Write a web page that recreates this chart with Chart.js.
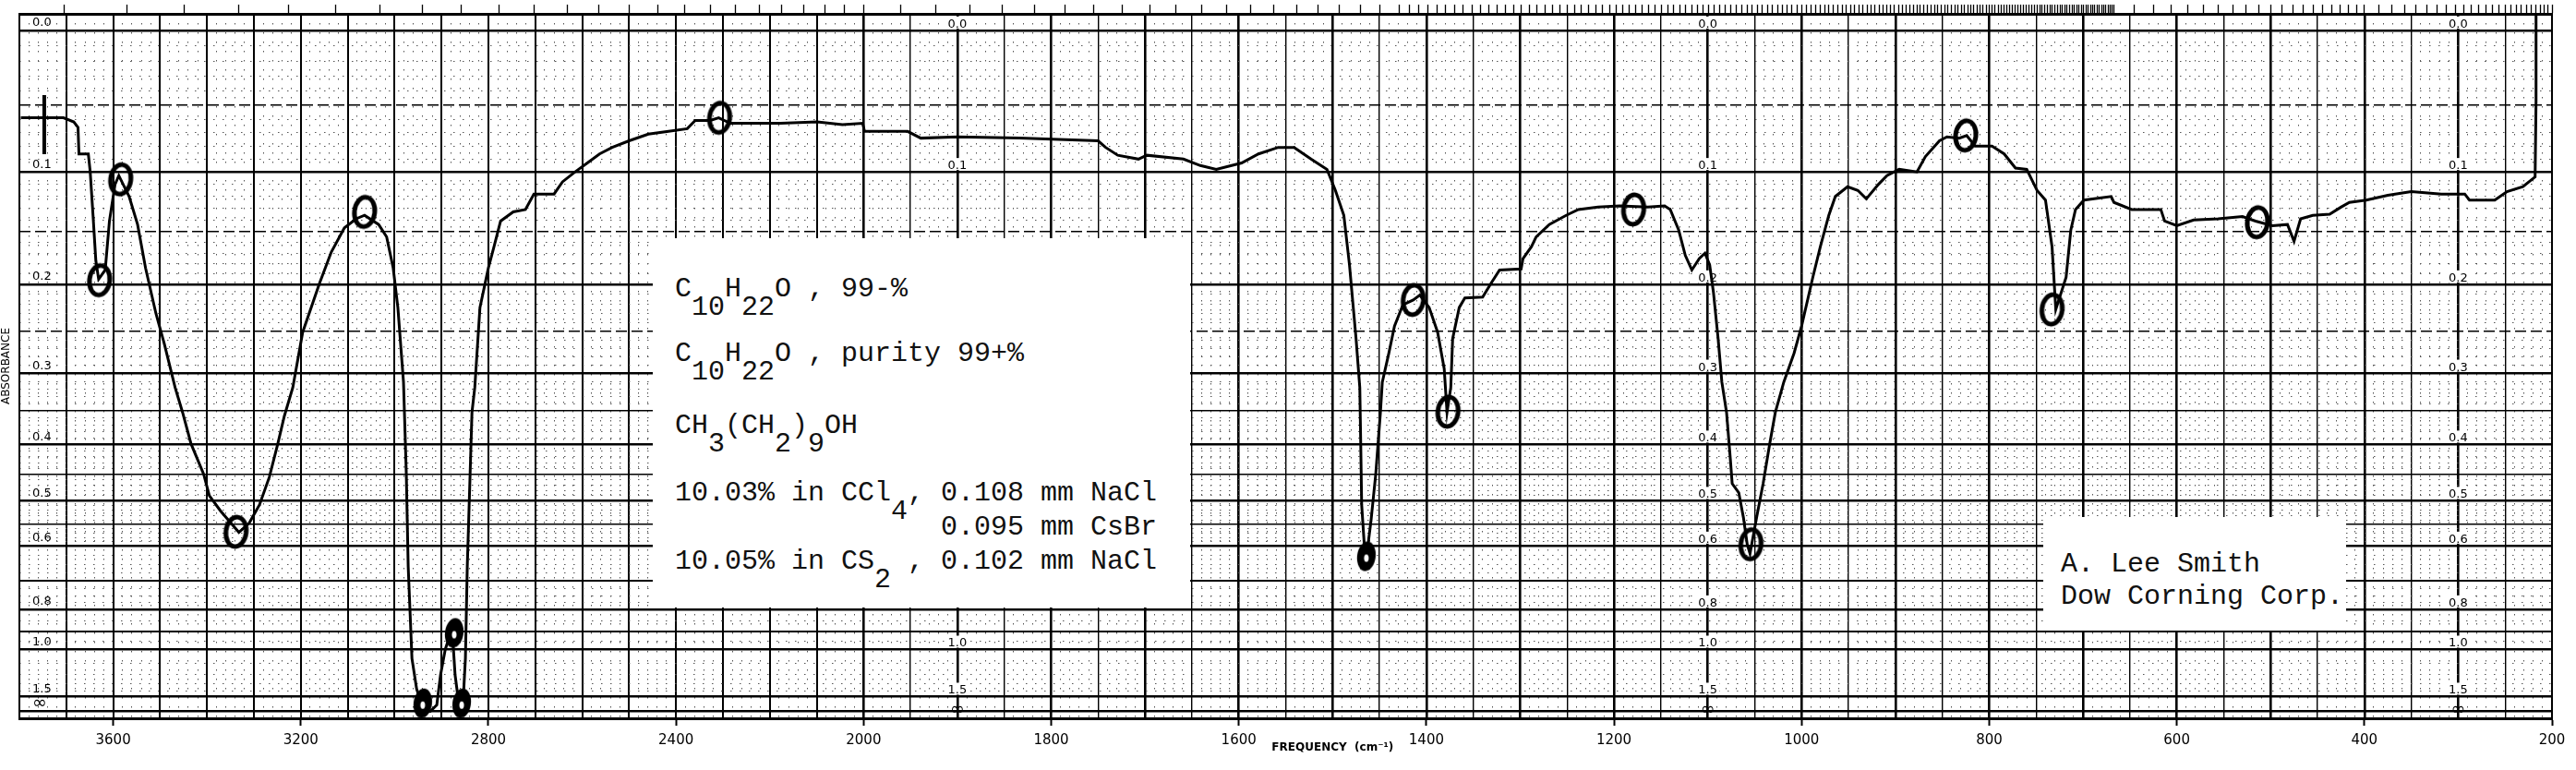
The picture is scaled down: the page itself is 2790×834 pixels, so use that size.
<!DOCTYPE html>
<html><head><meta charset="utf-8">
<script src="https://cdn.jsdelivr.net/npm/chart.js@4.4.1/dist/chart.umd.min.js"></script>
<style>
html,body{margin:0;padding:0;background:#fff;}
#wrap{position:relative;width:2790px;height:834px;overflow:hidden;}
#c{position:absolute;left:0;top:0;}
.note{position:absolute;background:#fff;font-family:"Liberation Mono","DejaVu Sans Mono",monospace;font-size:30px;line-height:30px;color:#111;}
.note .ln{position:absolute;white-space:pre;}
.sub{position:relative;top:20px;}
</style></head><body>
<div id="wrap">
<canvas id="c" width="2790" height="834"></canvas>
<div class="note" style="left:707px;top:258px;width:582px;height:400px;">
<div class="ln" style="left:24px;top:40px">C<span class="sub">10</span>H<span class="sub">22</span>O , 99-%</div>
<div class="ln" style="left:24px;top:110px">C<span class="sub">10</span>H<span class="sub">22</span>O , purity 99+%</div>
<div class="ln" style="left:24px;top:188px">CH<span class="sub">3</span>(CH<span class="sub">2</span>)<span class="sub">9</span>OH</div>
<div class="ln" style="left:24px;top:261px">10.03% in CCl<span class="sub">4</span>, 0.108 mm NaCl</div>
<div class="ln" style="left:24px;top:298px">                0.095 mm CsBr</div>
<div class="ln" style="left:24px;top:335px">10.05% in CS<span class="sub">2</span> , 0.102 mm NaCl</div>
</div>
<div class="note" style="left:2213px;top:560px;width:328px;height:123px;">
<div class="ln" style="left:19px;top:36px">A. Lee Smith</div>
<div class="ln" style="left:19px;top:71px">Dow Corning Corp.</div>
</div>
</div>
<script>
// ---- data (wavenumber cm-1, absorbance) ----
const traceWn = [3797,3706,3684,3675,3673,3653,3649,3643,3637,3631,3617,3608,3596,3588,3566,3548,3531,3509,3491,3468,3452,3434,3407,3395,3371,3349,3332,3310,3288,3267,3249,3235,3217,3196,3160,3135,3107,3082,3064,3034,3017,3003,2993,2981,2975,2971,2963,2953,2942,2932,2924,2910,2902,2892,2883,2875,2871,2865,2861,2855,2849,2845,2839,2835,2829,2818,2800,2788,2774,2747,2721,2703,2660,2642,2615,2589,2563,2536,2500,2459,2416,2376,2359,2327,2309,2284,2230,2177,2099,2045,2002,1999,1953,1939,1900,1834,1750,1742,1729,1707,1698,1659,1641,1624,1597,1579,1558,1541,1523,1506,1497,1488,1482,1475,1471,1470,1469,1466,1464,1459,1454,1449,1447,1440,1434,1425,1414,1407,1397,1388,1381,1378,1374,1372,1365,1359,1340,1331,1322,1299,1297,1288,1283,1269,1251,1238,1217,1194,1164,1146,1140,1131,1124,1117,1109,1103,1098,1094,1089,1085,1080,1076,1074,1067,1062,1058,1055,1048,1041,1034,1028,1019,1008,1000,988,980,971,964,951,940,931,918,909,896,877,868,853,845,832,824,815,797,784,772,760,749,740,733,729,718,713,708,699,670,667,648,617,613,600,582,556,530,516,498,482,475,468,455,437,425,416,398,375,350,318,293,288,261,248,231,218,217,217];
const traceAbs = [0.059,0.059,0.062,0.066,0.086,0.086,0.100,0.136,0.177,0.195,0.186,0.141,0.110,0.103,0.120,0.144,0.184,0.230,0.264,0.318,0.352,0.399,0.450,0.490,0.521,0.547,0.568,0.547,0.508,0.455,0.399,0.357,0.318,0.251,0.199,0.169,0.147,0.139,0.136,0.144,0.155,0.184,0.224,0.311,0.450,0.656,1.06,1.37,1.71,1.99,2.0,1.71,1.20,1.00,0.925,0.977,1.20,1.50,1.99,1.99,1.06,0.656,0.450,0.352,0.318,0.224,0.184,0.164,0.141,0.133,0.131,0.118,0.118,0.108,0.100,0.093,0.086,0.081,0.076,0.071,0.069,0.067,0.061,0.061,0.059,0.063,0.063,0.063,0.062,0.064,0.063,0.069,0.069,0.074,0.073,0.074,0.076,0.081,0.087,0.090,0.087,0.090,0.095,0.098,0.093,0.086,0.081,0.081,0.090,0.098,0.115,0.136,0.181,0.258,0.318,0.399,0.508,0.606,0.633,0.541,0.450,0.352,0.311,0.275,0.244,0.221,0.216,0.211,0.224,0.251,0.294,0.352,0.318,0.258,0.224,0.214,0.213,0.199,0.186,0.185,0.175,0.164,0.155,0.144,0.136,0.131,0.129,0.128,0.129,0.128,0.131,0.149,0.172,0.186,0.175,0.170,0.181,0.208,0.258,0.311,0.352,0.423,0.467,0.484,0.535,0.597,0.621,0.535,0.467,0.399,0.352,0.311,0.275,0.244,0.193,0.164,0.136,0.120,0.112,0.115,0.122,0.110,0.103,0.098,0.100,0.088,0.076,0.073,0.074,0.072,0.080,0.080,0.086,0.097,0.098,0.115,0.123,0.164,0.226,0.193,0.149,0.131,0.123,0.120,0.125,0.131,0.131,0.141,0.145,0.140,0.139,0.137,0.141,0.145,0.144,0.159,0.139,0.136,0.135,0.129,0.125,0.123,0.119,0.116,0.118,0.118,0.123,0.123,0.116,0.112,0.104,0.047,-0.01];
// hand-drawn peak marks
const markWn  = [3629,3584,3338,3064,2307,1414,1377,1179,1054,825,733,514];
const markAbs = [0.196,0.106,0.567,0.133,0.059,0.216,0.351,0.131,0.597,0.072,0.226,0.142];
const filledWn  = [2873,2940,2857,1464];
const filledAbs = [0.906,1.66,1.66,0.628];
const penWn  = [3747];
const penAbs = [0.064];
// axis labels
const xLabelWn = [3600,3200,2800,2400,2000,1800,1600,1400,1200,1000,800,600,400,200];
const yLabelAbs = [0,0.1,0.2,0.3,0.4,0.5,0.6,0.8,1.0,1.5,2.0];
const yLabelText = ['0.0','0.1','0.2','0.3','0.4','0.5','0.6','0.8','1.0','1.5','\u221E'];
const yDashAbs = [0.05,0.15,0.25];
const yMidAbs = [0.35,0.45,0.55,0.7,0.9];
const labelColumnWn = [1900,1100,300];

// ---- chart-paper scale helpers ----
const toU = w => w > 2000 ? 2000 + (w - 2000) / 2 : w;   // 4000-2000 half scale
const fromU = u => u > 2000 ? 2000 + (u - 2000) * 2 : u;
const toT = a => Math.pow(10, -a);                        // absorbance paper is linear in T

const xMajorWn = []; for (let w = 3700; w >= 2100; w -= 100) xMajorWn.push(w); for (let w = 2000; w >= 250; w -= 50) xMajorWn.push(w);
const xMinorWn = []; for (let w = 3780; w > 2000; w -= 20) if (w % 100) xMinorWn.push(w); for (let w = 1990; w > 200; w -= 10) if (w % 50) xMinorWn.push(w);
const yMinorAbs = []; for (let k = 1; k < 60; k++) if (k % 5) yMinorAbs.push(k / 100);
yMinorAbs.push(0.625,0.65,0.675,0.725,0.75,0.775,0.85,0.95,1.1,1.2,1.3,1.4);
const topLambda = []; for (let i = 27; i < 70; i++) topLambda.push(i / 10); for (let i = 140; i < 300; i++) topLambda.push(i / 20);
for (let l = 15; l < 25; l += 0.5) topLambda.push(l); for (let l = 25; l <= 50; l++) topLambda.push(l);

function ellipseImg(rx, ry, filled) {
  const c = document.createElement('canvas');
  const w = Math.ceil(2 * Math.max(rx, ry) + 8);
  c.width = w; c.height = w;
  const g = c.getContext('2d');
  g.strokeStyle = '#000'; g.fillStyle = '#000'; g.lineWidth = 5;
  g.beginPath(); g.ellipse(w / 2, w / 2, rx, ry, 0.12, 0, Math.PI * 2);
  if (filled) { g.fill(); g.fillStyle = '#fff'; g.beginPath(); g.ellipse(w / 2, w / 2 + 2, rx * 0.25, ry * 0.25, 0, 0, Math.PI * 2); g.fill(); }
  else g.stroke();
  return c;
}
const openMark = ellipseImg(11, 16, false);
const fullMark = ellipseImg(10, 16, true);

const X0 = toU(200), X1 = toU(3800), TMAX = 1.024;
const noPad = s => { s.paddingLeft = 0; s.paddingRight = 0; s.paddingTop = 0; s.paddingBottom = 0; };
function gridX(list, width, color, dash) {
  return { type: 'linear', position: 'bottom', reverse: true, min: X0, max: X1,
    afterBuildTicks: s => { s.ticks = list.map(w => ({ value: toU(w) })); },
    afterFit: s => { s.height = 0; noPad(s); },
    ticks: { display: false, autoSkip: false },
    grid: { drawTicks: false, color: color, lineWidth: width },
    border: { display: false, dash: dash || [] } };
}
function gridY(list, width, color, dash) {
  return { type: 'linear', position: 'left', min: 0, max: TMAX,
    afterBuildTicks: s => { s.ticks = list.map(a => ({ value: toT(a) })); },
    afterFit: s => { s.width = 0; noPad(s); },
    ticks: { display: false, autoSkip: false },
    grid: { drawTicks: false, color: color, lineWidth: width },
    border: { display: false, dash: dash || [] } };
}

const paperLabels = {
  id: 'paperLabels',
  beforeDatasetsDraw(chart) {
    const { ctx, scales } = chart; const x = scales.x, y = scales.y;
    ctx.save();
    for (const w of labelColumnWn) {
      const px = x.getPixelForValue(toU(w));
      yLabelAbs.forEach((a, i) => {
        const py = y.getPixelForValue(toT(a));
        const t = yLabelText[i];
        if (t === '\u221E') {
          ctx.font = '19px "DejaVu Sans"'; ctx.textAlign = 'center'; ctx.textBaseline = 'middle';
          ctx.fillStyle = '#000'; ctx.fillText(t, px, py - 1);
          return;
        }
        ctx.font = '13px "DejaVu Sans"'; ctx.textAlign = 'center'; ctx.textBaseline = 'alphabetic';
        const tw = ctx.measureText(t).width;
        ctx.fillStyle = '#fff'; ctx.fillRect(px - tw / 2 - 2, py - 15, tw + 4, 13);
        ctx.fillStyle = '#000'; ctx.fillText(t, px, py - 3);
      });
    }
    ctx.font = 'bold 12px "DejaVu Sans"'; ctx.textAlign = 'center'; ctx.textBaseline = 'middle'; ctx.fillStyle = '#000';
    ctx.fillText('FREQUENCY  (cm\u207B\u00B9)', x.getPixelForValue(toU(1500)), 810);
    ctx.restore();
  }
};

new Chart(document.getElementById('c'), {
  type: 'scatter',
  data: { datasets: [
    { label: 'trace', data: traceWn.map((w, i) => ({ x: toU(w), y: toT(traceAbs[i]) })), showLine: true,
      borderColor: '#000', borderWidth: 3, pointRadius: 0, tension: 0, fill: false, order: 3 },
    { label: 'marks', data: markWn.map((w, i) => ({ x: toU(w), y: toT(markAbs[i]) })), showLine: false,
      pointStyle: openMark, order: 1 },
    { label: 'filled', data: filledWn.map((w, i) => ({ x: toU(w), y: toT(filledAbs[i]) })), showLine: false,
      pointStyle: fullMark, order: 1 },
    { label: 'pen', data: penWn.map((w, i) => ({ x: toU(w), y: toT(penAbs[i]) })), showLine: false,
      pointStyle: 'line', rotation: 90, pointRadius: 32, borderWidth: 4, borderColor: '#000', order: 1 }
  ] },
  options: {
    responsive: false, animation: false, devicePixelRatio: 1,
    layout: { autoPadding: false, padding: { left: 0, right: 26, top: 0, bottom: 0 } },
    plugins: { legend: { display: false }, tooltip: { enabled: false } },
    events: [],
    scales: {
      x: { type: 'linear', position: 'bottom', reverse: true, min: X0, max: X1,
        afterBuildTicks: s => { s.ticks = xLabelWn.map(w => ({ value: toU(w) })); },
        afterFit: s => { s.height = 56; noPad(s); },
        ticks: { autoSkip: false, maxRotation: 0, padding: 7, color: '#000',
          font: { family: 'DejaVu Sans', size: 15 }, callback: v => String(Math.round(fromU(v))) },
        grid: { drawOnChartArea: false, drawTicks: true, tickLength: 8, tickWidth: 2, tickColor: '#000' },
        border: { display: true, color: '#000', width: 3 } },
      xMajor: gridX(xMajorWn, ctx => {
        const w = Math.round(fromU(ctx.tick.value));
        if (w > 2000) return 2;
        return (w % 100 === 0) ? 2.6 : 1.4; }, '#000'),
      xMinor: gridX(xMinorWn, 1, '#555', [1.5, 8.5]),
      xTop: { type: 'linear', position: 'top', reverse: true, min: X0, max: X1,
        afterBuildTicks: s => { s.ticks = topLambda.map(l => ({ value: toU(10000 / l) })); },
        afterFit: s => { s.height = 15; noPad(s); },
        ticks: { display: false, autoSkip: false },
        grid: { drawOnChartArea: false, drawTicks: true, tickLength: 10, tickWidth: 1.3, tickColor: '#000' },
        border: { display: true, color: '#000', width: 3 } },
      y: { type: 'linear', position: 'left', min: 0, max: TMAX,
        afterBuildTicks: s => { s.ticks = yLabelAbs.map(a => ({ value: toT(a) })); },
        afterFit: s => { s.width = 21; noPad(s); },
        ticks: { mirror: true, padding: 14, labelOffset: -8, autoSkip: false, color: '#000',
          font: ctx => ({ family: 'DejaVu Sans', size: ctx.index === yLabelText.length - 1 ? 19 : 13 }),
          callback: (v, i) => yLabelText[i] },
        grid: { drawTicks: false, color: '#000', lineWidth: 2.6 },
        border: { display: true, color: '#000', width: 2 },
        title: { display: true, text: 'ABSORBANCE', color: '#000', font: { family: 'DejaVu Sans', size: 12 }, padding: { top: 0, bottom: 0 } } },
      yDash: gridY(yDashAbs, 1.5, '#000', [12, 5]),
      yMid: gridY(yMidAbs, ctx => (Math.abs(ctx.tick.value - toT(0.7)) < 1e-6 || Math.abs(ctx.tick.value - toT(0.9)) < 1e-6) ? 2 : 1.5, '#000'),
      yMinor: gridY(yMinorAbs, 1, '#555', [1.5, 8.5]),
      yRight: { type: 'linear', position: 'right', min: 0, max: TMAX,
        afterFit: s => { s.width = 0; noPad(s); },
        ticks: { display: false }, grid: { display: false },
        border: { display: true, color: '#000', width: 2 } }
    }
  },
  plugins: [paperLabels]
});
</script>
</body></html>
